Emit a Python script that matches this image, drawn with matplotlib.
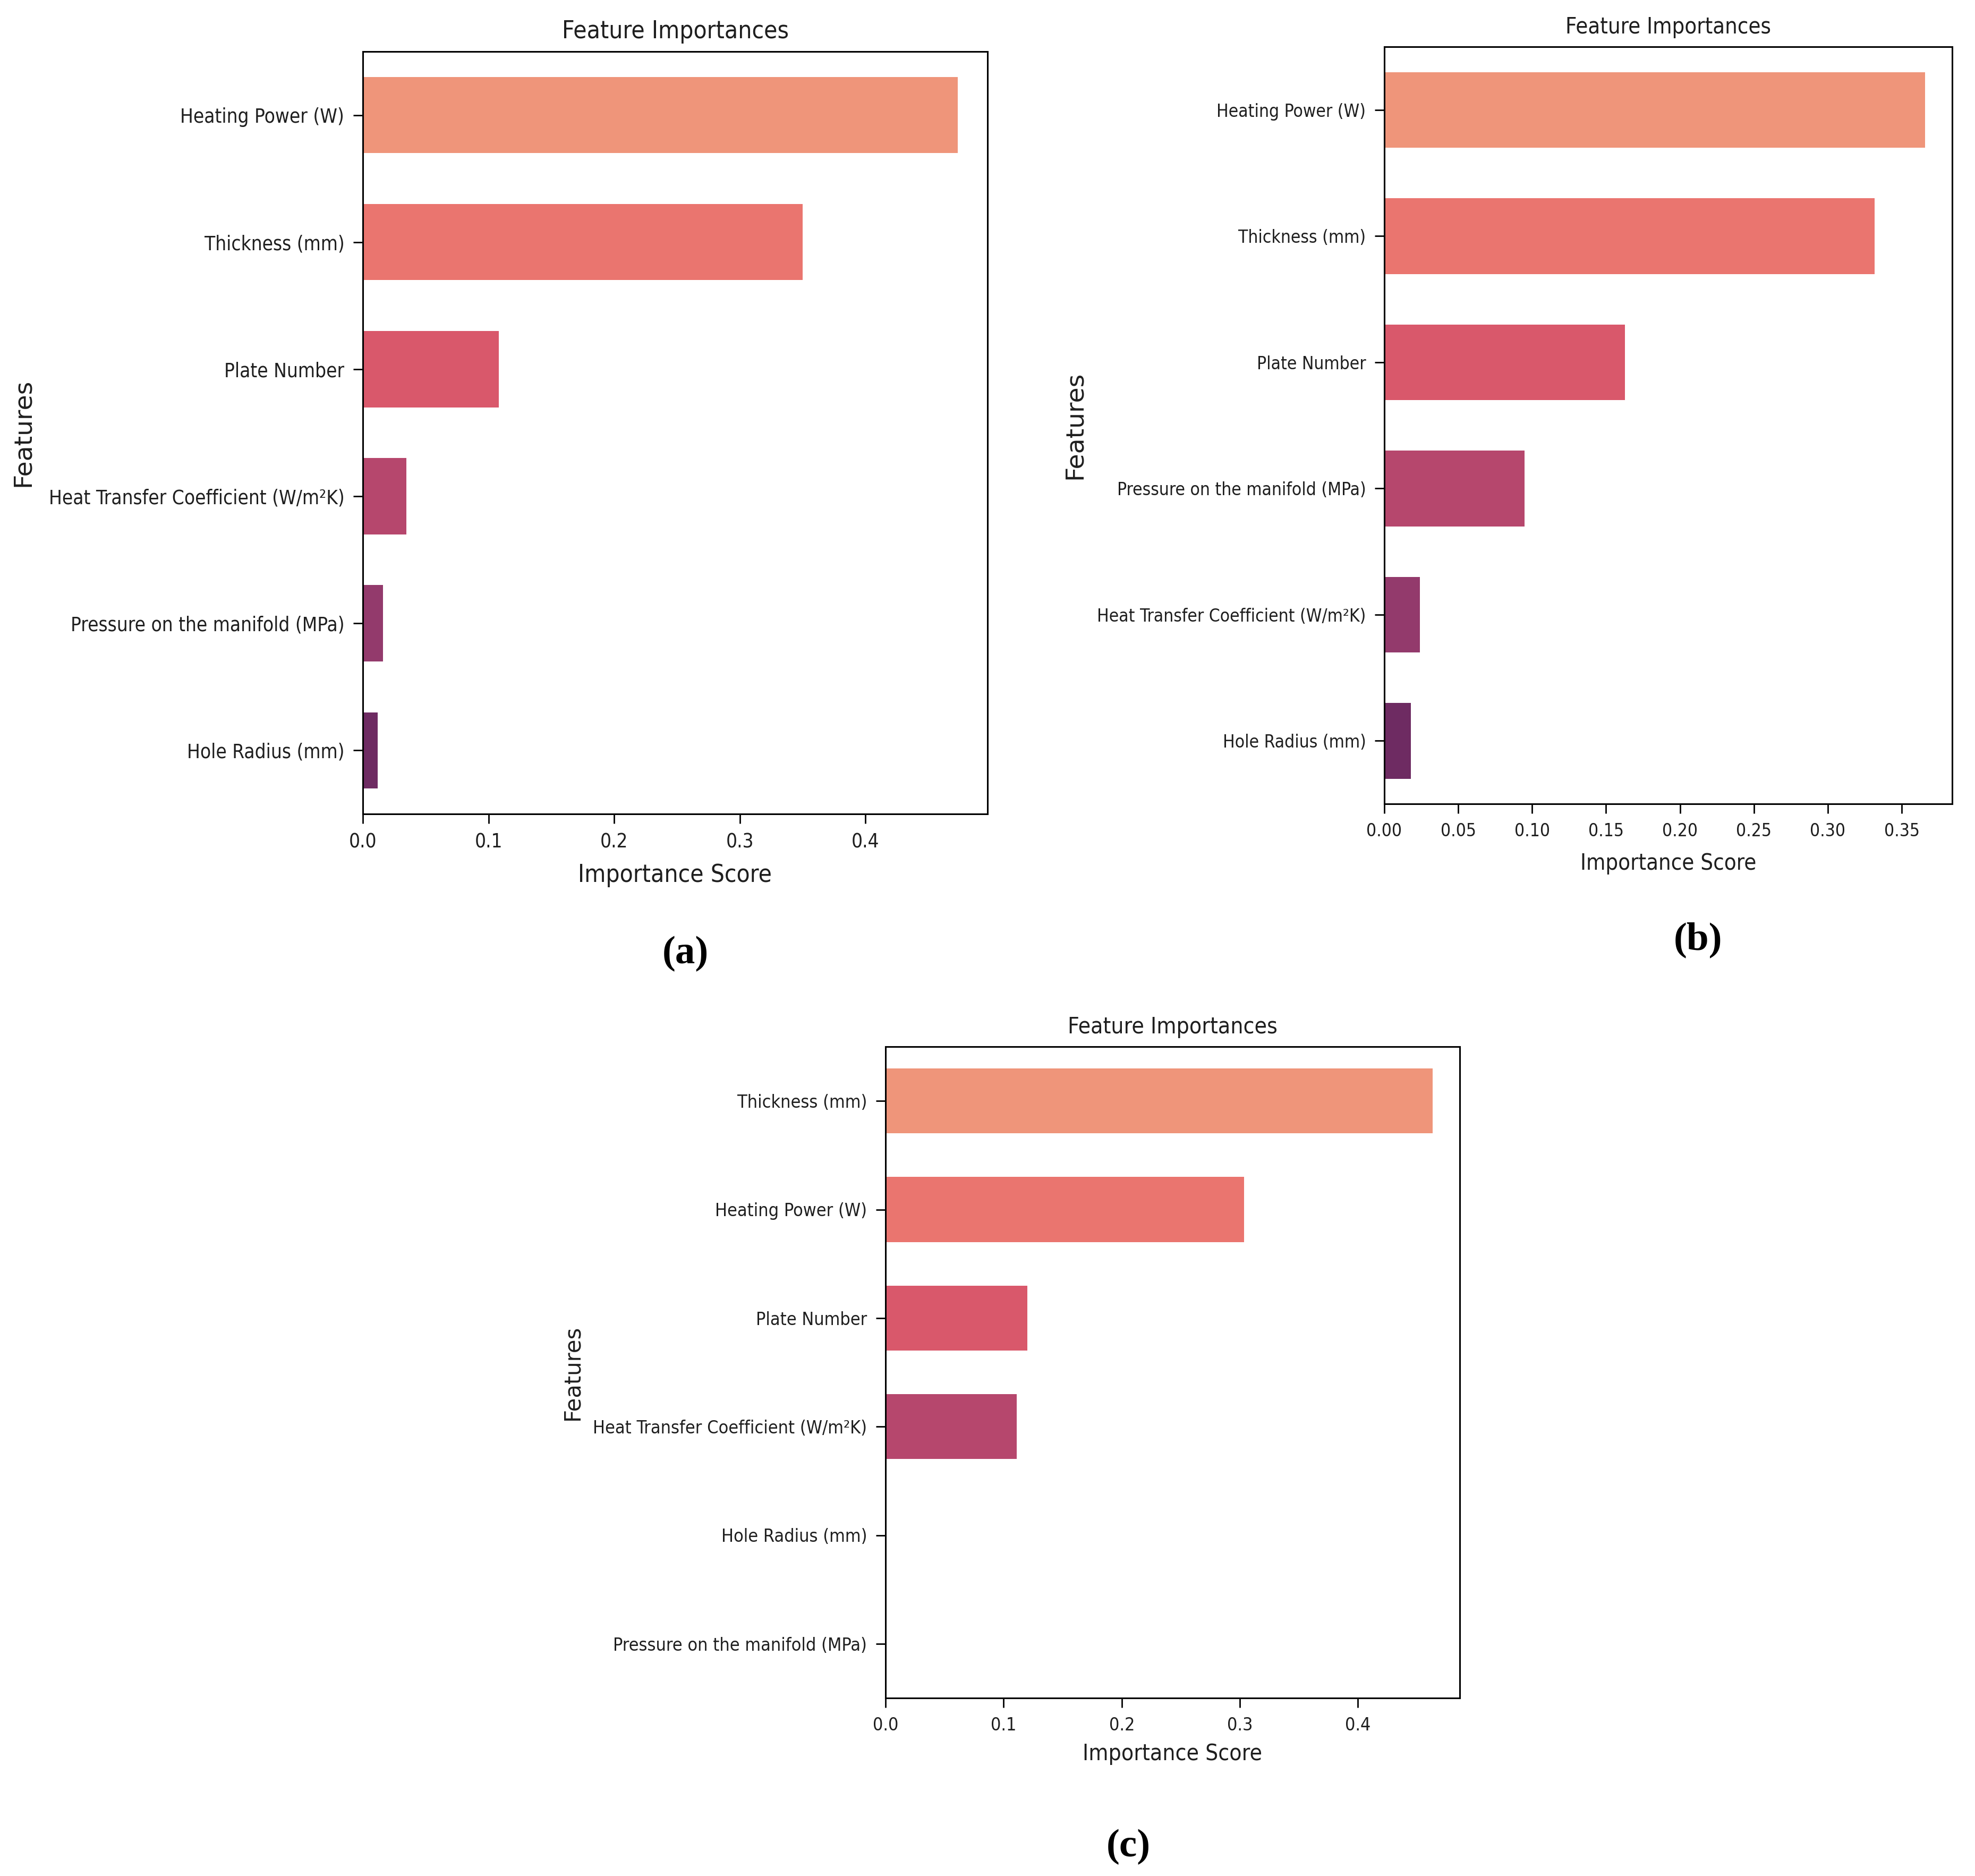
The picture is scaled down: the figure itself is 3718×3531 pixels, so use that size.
import matplotlib
matplotlib.use("Agg")
import matplotlib.pyplot as plt
import numpy as np

# ---------------- data ----------------
features_a = ["Heating Power (W)", "Thickness (mm)", "Plate Number",
              "Heat Transfer Coefficient (W/m²K)", "Pressure on the manifold (MPa)",
              "Hole Radius (mm)"]
scores_a = [0.4735, 0.3500, 0.1083, 0.0348, 0.0160, 0.0120]

features_b = ["Heating Power (W)", "Thickness (mm)", "Plate Number",
              "Pressure on the manifold (MPa)", "Heat Transfer Coefficient (W/m²K)",
              "Hole Radius (mm)"]
scores_b = [0.3658, 0.3318, 0.1626, 0.0948, 0.0239, 0.0180]

features_c = ["Thickness (mm)", "Heating Power (W)", "Plate Number",
              "Heat Transfer Coefficient (W/m²K)", "Hole Radius (mm)",
              "Pressure on the manifold (MPa)"]
scores_c = [0.4630, 0.3035, 0.1200, 0.1110, 0.0, 0.0]

palette = ["#ef957a", "#ea756f", "#d9586b", "#b6476d", "#933a6c", "#6e2b62"]

panel_labels = ["(a)", "(b)", "(c)"]
title_text = "Feature Importances"
xlabel_text = "Importance Score"
ylabel_text = "Features"

# ---------------- figure ----------------
W, H = 3718, 3531
fig = plt.figure(figsize=(W / 100, H / 100), dpi=100)
fig.patch.set_facecolor("white")

TXT = "#1e1e1e"
cond = dict(family="DejaVu Sans", stretch="condensed")


def box(l, t, r, b):
    return [l / W, 1 - b / H, (r - l) / W, (b - t) / H]


def style_xticks(ax, fs):
    for lbl in ax.get_xticklabels():
        lbl.set_fontsize(fs)
        lbl.set_fontfamily("DejaVu Sans")
        lbl.set_fontstretch("condensed")
        lbl.set_color(TXT)


def panel(rect, feats, vals, tick_fs, lab_fs, ylab_fs, ylab_x, xlabpad):
    ax = fig.add_axes(rect)
    pos = np.arange(len(feats))
    ax.barh(pos, vals, height=0.6, color=palette[:len(feats)])
    ax.set_ylim(len(feats) - 0.5, -0.5)
    ax.set_yticks(pos)
    ax.set_yticklabels(feats, fontsize=tick_fs, color=TXT, **cond)
    ax.tick_params(axis="both", length=13, width=2.0, color="black", pad=12)
    fig.canvas.draw()
    style_xticks(ax, tick_fs)
    for s in ax.spines.values():
        s.set_linewidth(2.2)
        s.set_color("black")
    ax.set_title(title_text, fontsize=lab_fs, color=TXT, pad=18, **cond)
    ax.set_xlabel(xlabel_text, fontsize=lab_fs, color=TXT, labelpad=xlabpad, **cond)
    ax.set_ylabel(ylabel_text, fontsize=ylab_fs, color=TXT, family="DejaVu Sans")
    ax.yaxis.set_label_coords(ylab_x, 0.5)
    return ax


ax_a = panel(box(683, 97, 1859, 1532), features_a, scores_a, 26.5, 33, 34, -0.525, 15)
ax_b = panel(box(2606, 88, 3675, 1513), features_b, scores_b, 24, 30, 34, -0.524, 17)
ax_c = panel(box(1667, 1970, 2748, 3196), features_c, scores_c, 24.5, 30.5, 30, -0.526, 12)

ax_b.set_xticks(np.arange(0, 0.36, 0.05))
ax_b.xaxis.set_major_formatter(matplotlib.ticker.FormatStrFormatter("%.2f"))
style_xticks(ax_b, 24)

for (x, y), t in zip([(1290, 1795), (3196, 1769), (2124, 3476)], panel_labels):
    fig.text(x / W, 1 - y / H, t, ha="center", va="center", fontsize=54,
             fontweight="bold", family="Liberation Serif", color="black")

fig.savefig("out.png", dpi=100, facecolor="white")
